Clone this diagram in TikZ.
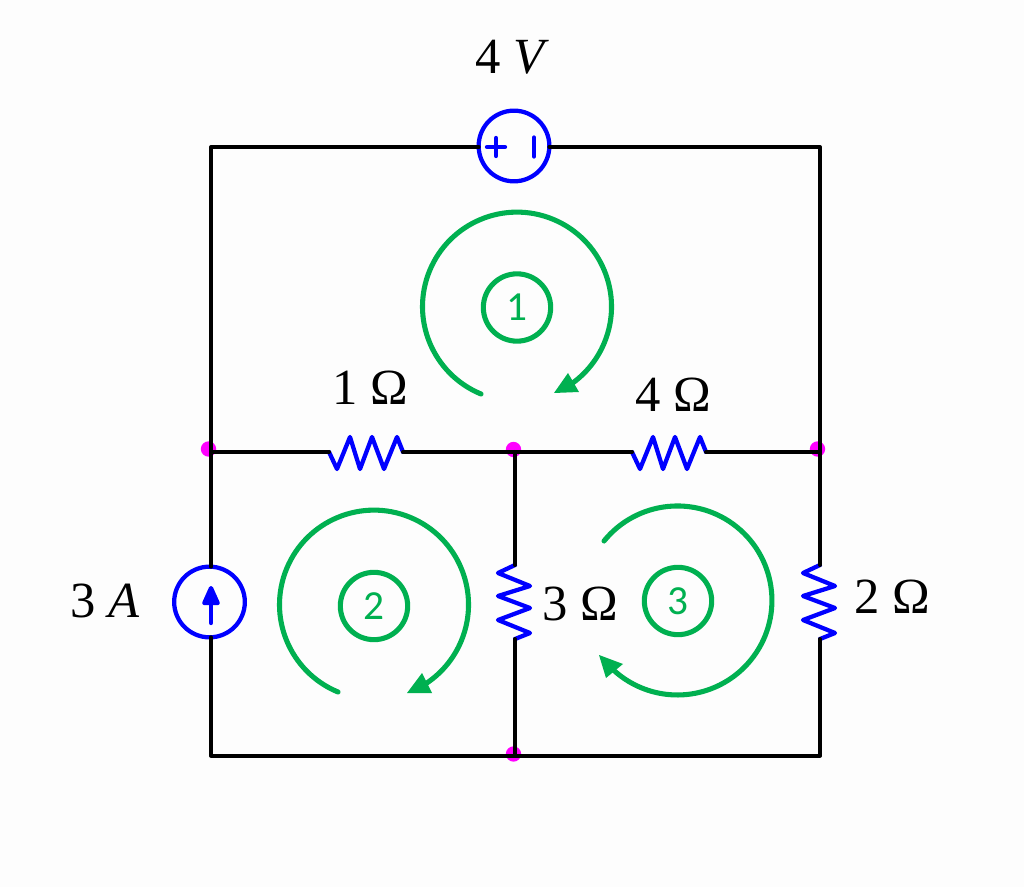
\documentclass[tikz,border=0pt]{standalone}
\usepackage{fontspec}
\usetikzlibrary{arrows.meta}
\newfontfamily\loopfont{Carlito}
\newfontfamily\valuefont{Liberation Serif}
\definecolor{loopgreen}{RGB}{0,176,80}
\definecolor{paper}{RGB}{253,253,253}
\definecolor{dotpink}{RGB}{255,0,255}
\tikzset{every picture/.style={line width=0.75pt},
	wire/.style={line width=3pt,line join=round,line cap=round},
	elem/.style={color=blue,line width=3.2pt,line join=round,line cap=round},
	source/.style={circle,draw=blue,line width=3.2pt,minimum size=53pt,inner sep=0pt,outer sep=0pt},
	junction/.style={circle,fill=dotpink,minimum size=11.5pt,inner sep=0pt},
	loopring/.style={circle,draw=loopgreen,text=loopgreen,line width=3.8pt,minimum size=50.5pt,inner sep=0pt,font=\loopfont\fontsize{31}{33}\selectfont},
	looparc/.style={color=loopgreen,line width=3.8pt,line cap=round},
	value/.style={font=\valuefont\fontsize{38}{40}\selectfont,inner sep=0pt},
	resistor/.pic={
		\coordinate (-a) at (-37,0);
		\coordinate (-b) at (37,0);
		\draw[elem] (-37,0) -- (-29,-17) -- (-16,15) -- (-6,-17) -- (6,15) -- (18,-17) -- (31,15) -- (37,0);
	}}
\begin{document}
\begin{tikzpicture}[x=0.75pt,y=0.75pt,yscale=-1,xscale=1]
	\fill[paper] (0,0) rectangle (1024,887);

	%Junctions
	\node[junction] (nodeA) at (208.5,449) {};
	\node[junction] (nodeB) at (513.5,449.5) {};
	\node[junction] (nodeC) at (817.5,449) {};
	\node[junction] (nodeD) at (513.5,754) {};

	%Corners
	\coordinate (topL) at (211,147);
	\coordinate (topR) at (820,147);
	\coordinate (botL) at (211,755.5);
	\coordinate (botR) at (820,755.5);
	\coordinate (midL) at (211,452);
	\coordinate (midC) at (515,452);
	\coordinate (midR) at (820,452);
	\coordinate (botC) at (515,755.5);

	%Sources
	\node[source] (srcV) at (514,146) {};
	\node[source] (srcI) at (209.5,602) {};
	\draw[elem] (srcV.center) ++(-27,1) -- ++(18,0);
	\draw[elem] (srcV.center) ++(-18,-8) -- ++(0,18);
	\draw[elem] (srcV.center) ++(20,-8.5) -- ++(0,19);
	\draw[elem,-{Triangle[length=17pt,width=14pt,round]}] (srcI.center) ++(1.5,21) -- ++(0,-37);

	%Resistors
	\pic (resA) at (366,452) {resistor};
	\pic (resB) at (669,452) {resistor};
	\pic[rotate=-90] (resC) at (515,602) {resistor};
	\pic[rotate=-90] (resD) at (820,602) {resistor};

	%Straight Lines
	\draw[wire] (srcV.west |- topL) -- (topL) -- (midL) -- (srcI.north -| midL);
	\draw[wire] (srcV.east |- topR) -- (topR) -- (midR) -- (resD-a);
	\draw[wire] (srcI.south -| botL) -- (botL) -- (botR) -- (resD-b);
	\draw[wire] (midL) -- (resA-a);
	\draw[wire] (resA-b) -- (midC) -- (resB-a);
	\draw[wire] (resB-b) -- (midR);
	\draw[wire] (midC) -- (resC-a);
	\draw[wire] (resC-b) -- (botC);

	%Loops
	\node[loopring] (loopA) at (517,307.5) {1};
	\node[loopring] (loopB) at (374,606) {2};
	\node[loopring] (loopC) at (678,601) {3};
	\draw[looparc] (481,394) arc[start angle=112.4,end angle=418,radius=94.5];
	\fill[loopgreen] (568,373) -- (554,393) -- (579,392) -- cycle;
	\draw[looparc] (338,692) arc[start angle=112.4,end angle=418,radius=94.5];
	\fill[loopgreen] (422,673) -- (407,693) -- (432,693) -- cycle;
	\draw[looparc] (604,541) arc[start angle=-141,end angle=135,radius=94.5];
	\fill[loopgreen] (599,655) -- (623,664) -- (606,678) -- cycle;

	% Text Node
	\node[value] (labV) at (512,57) {4 \textit{V}};
	% Text Node
	\node[value] (labA) at (370,388) {1 Ω};
	% Text Node
	\node[value] (labB) at (673,395) {4 Ω};
	% Text Node
	\node[value] (labC) at (580,604) {3 Ω};
	% Text Node
	\node[value] (labD) at (892,597) {2 Ω};
	% Text Node
	\node[value] (labI) at (105,601) {3 \textit{A}};
\end{tikzpicture}
\end{document}
